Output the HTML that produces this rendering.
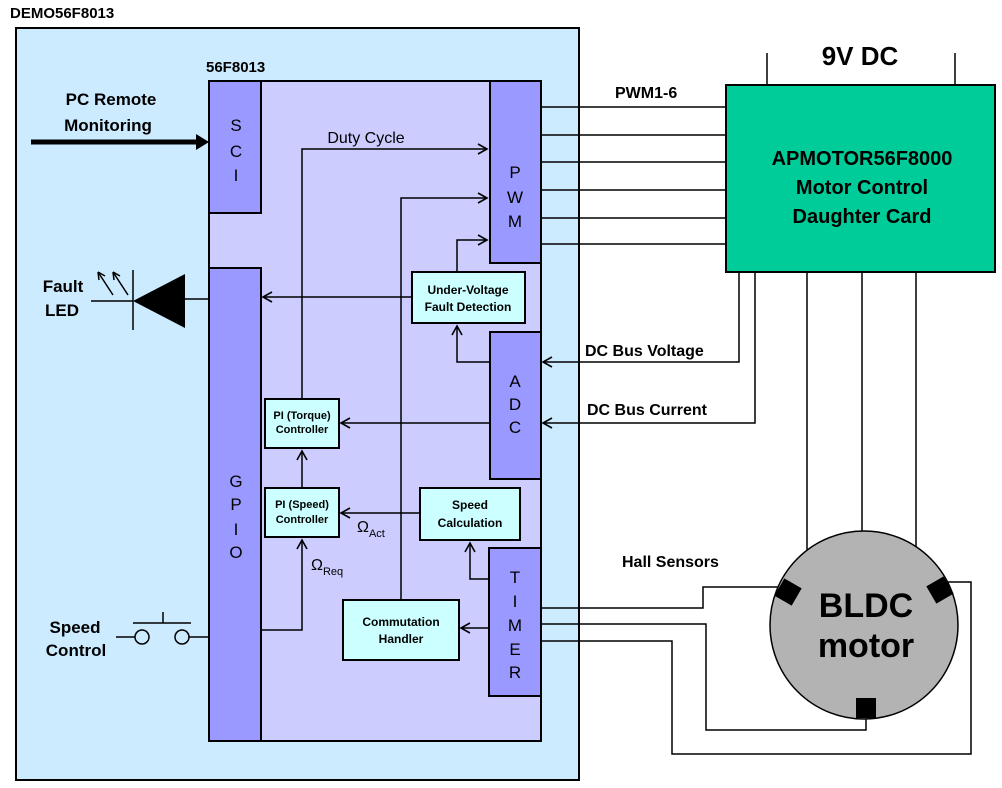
<!DOCTYPE html>
<html><head><meta charset="utf-8"><style>
body{margin:0;background:#fff}
svg{display:block}
text{font-family:"Liberation Sans",sans-serif}
</style></head><body>
<svg width="1002" height="788" viewBox="0 0 1002 788" xmlns="http://www.w3.org/2000/svg">
<defs>
<marker id="a" markerWidth="12" markerHeight="12" refX="10" refY="6" orient="auto" markerUnits="userSpaceOnUse">
<path d="M1,1 L10,6 L1,11" fill="none" stroke="#000" stroke-width="1.6"/></marker>
</defs>
<g stroke="#000" stroke-width="2">
<rect x="16" y="28" width="563" height="752" fill="#CCEBFF"/>
<rect x="209" y="81" width="332" height="660" fill="#CCCCFF"/>
<rect x="209" y="81" width="52" height="132" fill="#9999FF"/>
<rect x="209" y="268" width="52" height="473" fill="#9999FF"/>
<rect x="490" y="81" width="51" height="182" fill="#9999FF"/>
<rect x="490" y="332" width="51" height="147" fill="#9999FF"/>
<rect x="489" y="548" width="52" height="148" fill="#9999FF"/>
<rect x="412" y="272" width="113" height="51" fill="#CCFFFF"/>
<rect x="265" y="399" width="74" height="49" fill="#CCFFFF"/>
<rect x="265" y="488" width="74" height="49" fill="#CCFFFF"/>
<rect x="420" y="488" width="100" height="52" fill="#CCFFFF"/>
<rect x="343" y="600" width="116" height="60" fill="#CCFFFF"/>
<rect x="726" y="85" width="269" height="187" fill="#00CC99"/>
</g>
<g stroke="#000" stroke-width="1.5" fill="none">
<path d="M302 399 V149 H487" marker-end="url(#a)"/>
<path d="M401 600 V198 H487" marker-end="url(#a)"/>
<path d="M457 272 V240 H487" marker-end="url(#a)"/>
<path d="M412 297 H263" marker-end="url(#a)"/>
<path d="M490 362 H457 V326" marker-end="url(#a)"/>
<path d="M490 423 H341" marker-end="url(#a)"/>
<path d="M302 488 V451" marker-end="url(#a)"/>
<path d="M420 513 H341" marker-end="url(#a)"/>
<path d="M489 579 H470 V543" marker-end="url(#a)"/>
<path d="M489 628 H461" marker-end="url(#a)"/>
<path d="M261 630 H302 V540" marker-end="url(#a)"/>
<path d="M541 107 H726 M541 135 H726 M541 162 H726 M541 190 H726 M541 218 H726 M541 244 H726"/>
<path d="M767 53 V85 M955 53 V85"/>
<path d="M739 272 V362 H543" marker-end="url(#a)"/>
<path d="M755 272 V423 H543" marker-end="url(#a)"/>
<path d="M807 272 V550 M862 272 V532 M916 272 V550"/>
<path d="M541 608 H703 V587 H785"/>
<path d="M541 624 H706 V730 H866 V712"/>
<path d="M541 641 H672 V754 H971 V582 H945"/>
<path d="M91 301 H133 M185 299 H209 M133 270 V330"/>
<path d="M113 295 L98 272 M128 295 L113 272"/>
<path d="M98 272 l1 8 M98 272 l7 4 M113 272 l1 8 M113 272 l7 4"/>
<path d="M116 637 H135 M189 637 H209 M133 623 H191 M163 612 V623"/>
</g>
<path d="M133 301 L185 274 L185 328 Z" fill="#000"/>
<path d="M31 142 H198" stroke="#000" stroke-width="5"/>
<path d="M196 134 L209 142 L196 150 Z" fill="#000"/>
<circle cx="142" cy="637" r="7" fill="#CCEBFF" stroke="#000" stroke-width="1.5"/>
<circle cx="182" cy="637" r="7" fill="#CCEBFF" stroke="#000" stroke-width="1.5"/>
<circle cx="864" cy="625" r="94" fill="#B3B3B3" stroke="#000" stroke-width="1.5"/>
<rect x="778" y="582" width="20" height="20" fill="#000" transform="rotate(30 788 592)"/>
<rect x="930" y="580" width="20" height="20" fill="#000" transform="rotate(-30 940 590)"/>
<rect x="856" y="698" width="20" height="20" fill="#000"/>
<text x="10" y="18" font-size="15" font-weight="bold">DEMO56F8013</text>
<text x="206" y="72" font-size="15" font-weight="bold">56F8013</text>
<text x="111" y="105" font-size="17" font-weight="bold" text-anchor="middle">PC Remote</text>
<text x="108" y="131" font-size="17" font-weight="bold" text-anchor="middle">Monitoring</text>
<text x="63" y="292" font-size="17" font-weight="bold" text-anchor="middle">Fault</text>
<text x="62" y="316" font-size="17" font-weight="bold" text-anchor="middle">LED</text>
<text x="75" y="633" font-size="17" font-weight="bold" text-anchor="middle">Speed</text>
<text x="76" y="656" font-size="17" font-weight="bold" text-anchor="middle">Control</text>
<g font-size="17" text-anchor="middle">
<text x="236" y="131">S</text><text x="236" y="157">C</text><text x="236" y="181">I</text>
<text x="515" y="178">P</text><text x="515" y="203">W</text><text x="515" y="227">M</text>
<text x="515" y="387">A</text><text x="515" y="410">D</text><text x="515" y="433">C</text>
<text x="236" y="487">G</text><text x="236" y="510">P</text><text x="236" y="535">I</text><text x="236" y="558">O</text>
<text x="515" y="583">T</text><text x="515" y="607">I</text><text x="515" y="631">M</text><text x="515" y="655">E</text><text x="515" y="678">R</text>
</g>
<text x="366" y="143" font-size="16" text-anchor="middle">Duty Cycle</text>
<g font-size="12" font-weight="bold" text-anchor="middle">
<text x="468" y="294">Under-Voltage</text><text x="468" y="311">Fault Detection</text>
<text x="302" y="419" font-size="11">PI (Torque)</text><text x="302" y="433" font-size="11">Controller</text>
<text x="302" y="508" font-size="11">PI (Speed)</text><text x="302" y="523" font-size="11">Controller</text>
<text x="470" y="509">Speed</text><text x="470" y="527">Calculation</text>
<text x="401" y="626">Commutation</text><text x="401" y="643">Handler</text>
</g>
<text x="357" y="532" font-size="16">Ω<tspan font-size="11" dy="5">Act</tspan></text>
<text x="311" y="570" font-size="16">Ω<tspan font-size="11" dy="5">Req</tspan></text>
<text x="615" y="98" font-size="16" font-weight="bold">PWM1-6</text>
<text x="860" y="65" font-size="26" font-weight="bold" text-anchor="middle">9V DC</text>
<g font-size="20" font-weight="bold" text-anchor="middle">
<text x="862" y="165">APMOTOR56F8000</text>
<text x="862" y="194">Motor Control</text>
<text x="862" y="223">Daughter Card</text>
</g>
<text x="585" y="356" font-size="16" font-weight="bold">DC Bus Voltage</text>
<text x="587" y="415" font-size="16" font-weight="bold">DC Bus Current</text>
<text x="622" y="567" font-size="16" font-weight="bold">Hall Sensors</text>
<text x="866" y="617" font-size="34" font-weight="bold" text-anchor="middle">BLDC</text>
<text x="866" y="657" font-size="34" font-weight="bold" text-anchor="middle">motor</text>
</svg>
</body></html>
